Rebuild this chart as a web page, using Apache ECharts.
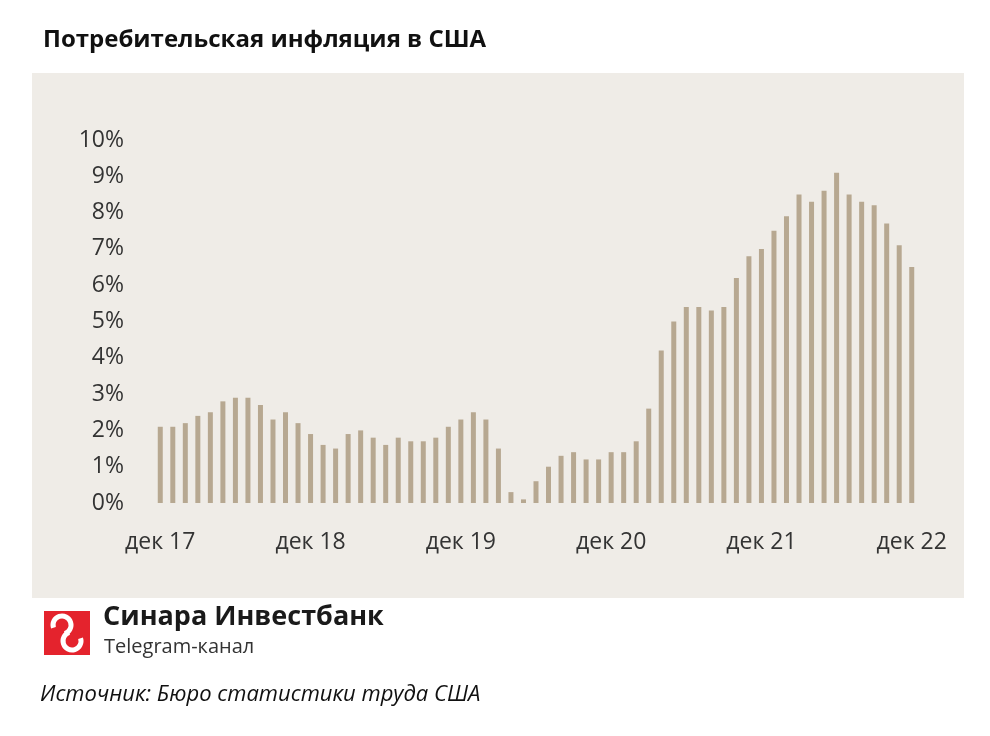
<!DOCTYPE html>
<html>
<head>
<meta charset="utf-8">
<script src="https://cdn.jsdelivr.net/npm/echarts@6/dist/echarts.min.js"></script>
<style>
  html, body { margin: 0; padding: 0; background: #fff; }
  #chart { width: 990px; height: 736px; }
</style>
</head>
<body>
<div id="chart"></div>
<script>
// months Dec 2017 .. Dec 2022
var years = ['17', '18', '19', '20', '21', '22'];
var months = [];
for (var y = 0; y < years.length; y++) {
  var n = (y === 0) ? 1 : 12;
  for (var m = 0; m < n; m++) {
    months.push(m === n - 1 ? 'дек ' + years[y] : '');
  }
}
var cpi = [2.1,
  2.1, 2.2, 2.4, 2.5, 2.8, 2.9, 2.9, 2.7, 2.3, 2.5, 2.2, 1.9,
  1.6, 1.5, 1.9, 2.0, 1.8, 1.6, 1.8, 1.7, 1.7, 1.8, 2.1, 2.3,
  2.5, 2.3, 1.5, 0.3, 0.1, 0.6, 1.0, 1.3, 1.4, 1.2, 1.2, 1.4,
  1.4, 1.7, 2.6, 4.2, 5.0, 5.4, 5.4, 5.3, 5.4, 6.2, 6.8, 7.0,
  7.5, 7.9, 8.5, 8.3, 8.6, 9.1, 8.5, 8.3, 8.2, 7.7, 7.1, 6.5];

var font = '"Open Sans", "Noto Sans", sans-serif';
var chart = echarts.init(document.getElementById('chart'));
chart.setOption({
  animation: false,
  backgroundColor: '#fff',
  title: {
    text: 'Потребительская инфляция в США',
    left: 38, top: 23,
    textStyle: { fontFamily: font, fontSize: 24, fontWeight: 'bold', color: '#111' }
  },
  graphic: [
    { type: 'rect', z: -10, shape: { x: 32, y: 73, width: 932, height: 525 },
      style: { fill: '#efece7' } },
    { type: 'rect', shape: { x: 44, y: 611, width: 46, height: 44 }, style: { fill: '#e4232d' } },
    { type: 'arc', shape: { cx: 62, cy: 625, r: 9, startAngle: Math.PI * 0.9, endAngle: Math.PI * 2.4 },
      style: { stroke: '#fff', lineWidth: 5, fill: null } },
    { type: 'arc', shape: { cx: 72, cy: 641, r: 9, startAngle: -Math.PI * 0.1, endAngle: Math.PI * 1.4 },
      style: { stroke: '#fff', lineWidth: 5, fill: null } },
    { type: 'text', x: 103, y: 604,
      style: { text: 'Синара Инвестбанк', font: 'bold 27px ' + font, fill: '#1a1a1a' } },
    { type: 'text', x: 104, y: 637,
      style: { text: 'Telegram-канал', font: '20px ' + font, fill: '#333' } },
    { type: 'text', x: 40, y: 684,
      style: { text: 'Источник: Бюро статистики труда США', font: 'italic 22px ' + font, fill: '#111' } }
  ],
  grid: { left: 154, right: 72, top: 140, bottom: 233 },
  xAxis: {
    type: 'category', data: months,
    axisLine: { show: false }, axisTick: { show: false },
    axisLabel: { interval: 0, margin: 28, fontFamily: font, fontSize: 23, color: '#333' }
  },
  yAxis: {
    type: 'value', min: 0, max: 10, interval: 1,
    splitLine: { show: false },
    axisLabel: { formatter: '{value}%', margin: 30, fontFamily: font, fontSize: 23, color: '#333' }
  },
  series: [{
    type: 'bar', data: cpi, barWidth: 5,
    itemStyle: { color: '#b7a891' }
  }]
});
</script>
</body>
</html>
